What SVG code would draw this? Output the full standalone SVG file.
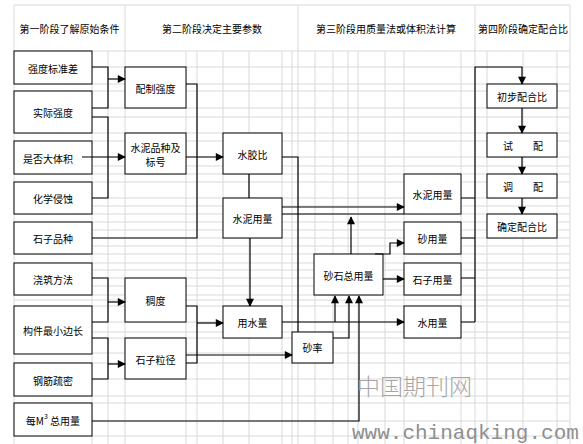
<svg xmlns="http://www.w3.org/2000/svg" width="583" height="444" viewBox="0 0 583 444">
<defs>
<marker id="ah" viewBox="0 0 10 10" refX="9" refY="5" markerWidth="9" markerHeight="8" markerUnits="userSpaceOnUse" orient="auto">
<path d="M0,0 L10,5 L0,10 z" fill="#000"/>
</marker>
<style>
.grid{stroke:#d9d9d9;stroke-width:1;fill:none}
.box{fill:#fff;stroke:#000;stroke-width:1}
.t{font-family:"Noto Sans CJK SC","Noto Sans",sans-serif;font-size:10px;fill:#000;text-anchor:middle;dominant-baseline:central}
.c{fill:none;stroke:#000;stroke-width:1.2}
.a{marker-end:url(#ah)}
</style>
</defs>
<rect width="583" height="444" fill="#fff"/>
<g id="grid" class="grid">
<path d="M14,5H570M14,51H570M14,5V51M125,5V51M298,5V51M475,5V51M570,5V51"/>
<path d="M14,67H570M14,84H570M14,91H570M14,108H570M14,117H570M14,133H570M14,141H570M14,157H570M14,166H570M14,174H570M14,182H570M14,198H570M14,206H570M14,214H570M14,222H570M14,230H570M14,238H570M14,246H570M14,254H570M14,263H570M14,270H570M14,278H570M14,286H570M14,295H570M14,300H570M14,306H570M14,322H570M14,332H570M14,338H570M14,353H570M14,363H570M14,379H570M14,396H570M14,403H570M14,421H570M14,436H570"/>
<path d="M14,51V444M92,51V444M108,51V444M125,51V444M186,51V444M197,51V444M223,51V444M249,51V444M282,51V444M292,51V444M298,51V444M315,51V444M333,51V444M348,51V444M358,51V444M385,51V444M404,51V444M461,51V444M475,51V444M487,51V444M523,51V444M557,51V444M570,51V444"/>
</g>
<g id="headers">
<text class="t" x="69.5" y="28">第一阶段了解原始条件</text>
<text class="t" x="212" y="28">第二阶段决定主要参数</text>
<text class="t" x="386" y="28">第三阶段用质量法或体积法计算</text>
<text class="t" x="523" y="28">第四阶段确定配合比</text>
</g>
<g id="n1"><rect class="box" x="14" y="51" width="78" height="33"/><text class="t" x="53" y="68">强度标准差</text></g>
<g id="n2"><rect class="box" x="14" y="91" width="78" height="42"/><text class="t" x="53" y="112">实际强度</text></g>
<g id="n3"><rect class="box" x="14" y="141" width="78" height="33"/><text class="t" x="48" y="158">是否大体积</text></g>
<g id="n4"><rect class="box" x="14" y="182" width="78" height="32"/><text class="t" x="53" y="198">化学侵蚀</text></g>
<g id="n5"><rect class="box" x="14" y="222" width="78" height="32"/><text class="t" x="53" y="238">石子品种</text></g>
<g id="n6"><rect class="box" x="14" y="263" width="78" height="32"/><text class="t" x="53" y="279">浇筑方法</text></g>
<g id="n7"><rect class="box" x="14" y="306" width="78" height="48"/><text class="t" x="53" y="330">构件最小边长</text></g>
<g id="n8"><rect class="box" x="14" y="363" width="78" height="33"/><text class="t" x="53" y="380">钢筋疏密</text></g>
<g id="n9"><rect class="box" x="14" y="403" width="78" height="33"/><text class="t" x="53" y="420">每M<tspan font-size="7" dy="-4">3</tspan><tspan dy="4"> 总用量</tspan></text></g>
<g id="n10"><rect class="box" x="125" y="67" width="61" height="41"/><text class="t" x="155.5" y="88">配制强度</text></g>
<g id="n11"><rect class="box" x="125" y="133" width="61" height="41"/><text class="t" x="155.5" y="147">水泥品种及</text><text class="t" x="155.5" y="161">标号</text></g>
<g id="n12"><rect class="box" x="125" y="278" width="61" height="44"/><text class="t" x="155.5" y="300">稠度</text></g>
<g id="n13"><rect class="box" x="125" y="338" width="61" height="41"/><text class="t" x="155.5" y="359">石子粒径</text></g>
<g id="n14"><rect class="box" x="223" y="133" width="59" height="41"/><text class="t" x="252.5" y="154">水胶比</text></g>
<g id="n15"><rect class="box" x="223" y="198" width="59" height="40"/><text class="t" x="252.5" y="218">水泥用量</text></g>
<g id="n16"><rect class="box" x="223" y="306" width="59" height="32"/><text class="t" x="252.5" y="322">用水量</text></g>
<g id="n17"><rect class="box" x="292" y="332" width="41" height="31"/><text class="t" x="312.5" y="347.5">砂率</text></g>
<g id="n18"><rect class="box" x="314" y="254" width="69" height="41"/><text class="t" x="348.5" y="275">砂石总用量</text></g>
<g id="n19"><rect class="box" x="404" y="174" width="57" height="40"/><text class="t" x="432.5" y="194">水泥用量</text></g>
<g id="n20"><rect class="box" x="404" y="222" width="57" height="32"/><text class="t" x="432.5" y="238">砂用量</text></g>
<g id="n21"><rect class="box" x="404" y="263" width="57" height="32"/><text class="t" x="432.5" y="279">石子用量</text></g>
<g id="n22"><rect class="box" x="404" y="306" width="57" height="32"/><text class="t" x="432.5" y="322">水用量</text></g>
<g id="n23"><rect class="box" x="487" y="84" width="70" height="24"/><text class="t" x="522" y="96">初步配合比</text></g>
<g id="n24"><rect class="box" x="487" y="133" width="70" height="24"/><text class="t" x="523" y="145">试　　配</text></g>
<g id="n25"><rect class="box" x="487" y="174" width="70" height="24"/><text class="t" x="523" y="186">调　　配</text></g>
<g id="n26"><rect class="box" x="487" y="214" width="70" height="24"/><text class="t" x="522" y="226">确定配合比</text></g>
<g id="connectors">
<path class="c" d="M92,67H108V108H92"/>
<path class="c a" d="M108,79H125"/>
<path class="c" d="M92,117H108V198H92"/>
<path class="c a" d="M82,157H125"/>
<path class="c" d="M186,84H197V238H92"/>
<path class="c a" d="M186,157H223"/>
<path class="c" d="M249,174V198"/>
<path class="c" d="M282,157H298V332"/>
<path class="c a" d="M282,207H404"/>
<path class="c" d="M282,214H404"/>
<path class="c a" d="M351,254V217"/>
<path class="c a" d="M375,254H390V243H404"/>
<path class="c a" d="M383,279H404"/>
<path class="c a" d="M282,322H404"/>
<path class="c a" d="M335,322V296"/>
<path class="c a" d="M333,338H349V296"/>
<path class="c a" d="M92,421H359V296"/>
<path class="c a" d="M250,238V306"/>
<path class="c" d="M92,278H108V322H92"/>
<path class="c a" d="M108,302H125"/>
<path class="c" d="M92,338H108V379H92"/>
<path class="c a" d="M108,364H125"/>
<path class="c" d="M186,306H197V363H186"/>
<path class="c a" d="M197,323H223"/>
<path class="c a" d="M186,355H292"/>
<path class="c" d="M461,198H475M461,238H475M461,278H475M461,322H475"/>
<path class="c a" d="M475,322V67H522V84"/>
<path class="c a" d="M522,108V133"/>
<path class="c a" d="M522,157V174"/>
<path class="c a" d="M522,198V214"/>
</g>
<g id="watermark">
<text x="357" y="395" font-family="Noto Sans CJK SC,sans-serif" font-weight="300" font-size="23" fill="#a6a6a6">中国期刊网</text>
<text x="352" y="439" font-family="Liberation Mono,monospace" font-size="21" fill="#8f8f8f">www.chinaqking.com</text>
</g>
</svg>
